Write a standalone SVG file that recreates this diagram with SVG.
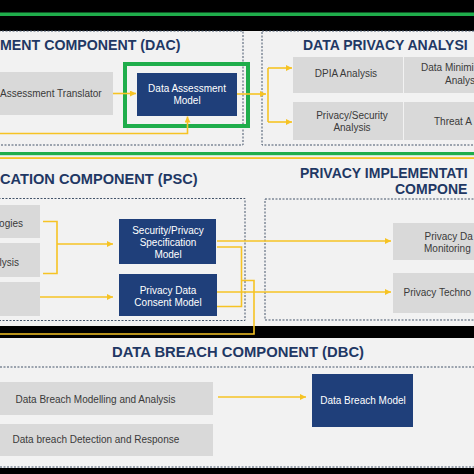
<svg xmlns="http://www.w3.org/2000/svg" width="474" height="474" viewBox="0 0 474 474">
<defs>
<style>
.bg{fill:#f2f2f2}
.blk{fill:#000}
.dash{fill:none;stroke:#44546a;stroke-width:1;stroke-dasharray:2 1.5}
.gray{fill:#d9d9d9}
.navy{fill:#1f3f7a}
.title{font-family:"Liberation Sans",Arial,sans-serif;font-weight:bold;fill:#1f3864}
.lbl{font-family:"Liberation Sans",Arial,sans-serif;font-size:10px;fill:#3a3a3a}
.wl{font-family:"Liberation Sans",Arial,sans-serif;font-size:10px;fill:#ffffff;text-anchor:middle}
.mid{text-anchor:middle}
.conn{fill:none;stroke:#f6c324;stroke-width:1.6}
</style>
<marker id="arr" markerUnits="userSpaceOnUse" markerWidth="6" markerHeight="6" refX="6" refY="3" orient="auto">
<path d="M0,0 L6,3 L0,6 z" fill="#f6c324"/>
</marker>
</defs>

<!-- background bands -->
<rect class="bg" x="0" y="0" width="474" height="474"/>
<rect class="blk" x="0" y="0" width="474" height="31"/>
<rect x="0" y="12.5" width="474" height="3.5" fill="#1fad4b"/>
<rect x="0" y="152" width="474" height="3.2" fill="#1fad4b"/>
<rect x="0" y="157.2" width="474" height="1.8" fill="#f6c324"/>
<rect class="blk" x="0" y="326" width="474" height="12"/>
<rect class="blk" x="0" y="468" width="474" height="6"/>

<!-- section frames -->
<rect class="dash" x="-5" y="31" width="248" height="114"/>
<rect class="dash" x="262" y="31" width="220" height="114"/>
<rect class="dash" x="-5" y="198.5" width="250" height="122"/>
<rect class="dash" x="265" y="199" width="217" height="121"/>
<line class="dash" x1="0" y1="367" x2="474" y2="367"/>
<line class="dash" x1="0" y1="467" x2="474" y2="467"/>

<!-- titles -->
<text class="title" x="0" y="50" font-size="14.2">MENT COMPONENT (DAC)</text>
<text class="title" x="303" y="49.5" font-size="14">DATA PRIVACY ANALYSI</text>
<text class="title" x="0" y="184" font-size="14.6">CATION COMPONENT (PSC)</text>
<text class="title" x="300" y="178" font-size="14">PRIVACY IMPLEMENTATI</text>
<text class="title" x="395" y="194" font-size="14">COMPONE</text>
<text class="title mid" x="238" y="357" font-size="14.8">DATA BREACH COMPONENT (DBC)</text>

<!-- DAC nodes -->
<g id="assessment-translator">
<rect class="gray" x="-5" y="72" width="118" height="43"/>
<text class="lbl" x="0" y="97">Assessment Translator</text>
</g>
<g id="data-assessment-model">
<rect x="125" y="64" width="123" height="62" fill="none" stroke="#1fad4b" stroke-width="4"/>
<rect class="navy" x="137" y="73" width="100" height="43"/>
<text class="wl" x="187" y="92">Data Assessment</text>
<text class="wl" x="187" y="104">Model</text>
</g>

<!-- DPA nodes -->
<g id="dpia-analysis">
<rect class="gray" x="293" y="57" width="110" height="36"/>
<text class="lbl mid" x="346" y="76.5">DPIA Analysis</text>
</g>
<g id="data-minimisation-analysis">
<rect class="gray" x="404" y="57" width="80" height="36" fill="#d8d8d8"/>
<text class="lbl" x="421" y="71">Data Minimi</text>
<text class="lbl" x="445" y="84">Analys</text>
</g>
<g id="privacy-security-analysis">
<rect class="gray" x="293" y="102" width="110" height="38"/>
<text class="lbl mid" x="352" y="119">Privacy/Security</text>
<text class="lbl mid" x="352" y="131">Analysis</text>
</g>
<g id="threat-analysis">
<rect class="gray" x="404" y="102" width="80" height="38" fill="#d8d8d8"/>
<text class="lbl" x="434" y="124.5">Threat A</text>
</g>

<!-- PSC nodes -->
<g id="psc-input-1">
<rect class="gray" x="-5" y="205" width="45" height="33"/>
<text class="lbl" x="23" y="226.5" text-anchor="end">ogies</text>
</g>
<g id="psc-input-2">
<rect class="gray" x="-5" y="243" width="45" height="34"/>
<text class="lbl" x="19" y="265.5" text-anchor="end">lysis</text>
</g>
<g id="psc-input-3">
<rect class="gray" x="-5" y="282" width="45" height="34"/>
</g>
<g id="spec-model">
<rect class="navy" x="119" y="219" width="97" height="45"/>
<text class="wl" x="168" y="233.5">Security/Privacy</text>
<text class="wl" x="168" y="246">Specification</text>
<text class="wl" x="168" y="257.5">Model</text>
</g>
<g id="consent-model">
<rect class="navy" x="119" y="274" width="98" height="42"/>
<text class="wl" x="168" y="293.5">Privacy Data</text>
<text class="wl" x="168" y="306">Consent Model</text>
</g>

<!-- PIC nodes -->
<g id="privacy-data-monitoring">
<rect class="gray" x="393" y="223" width="90" height="37"/>
<text class="lbl" x="424.5" y="239.5">Privacy Da</text>
<text class="lbl" x="424" y="252">Monitoring</text>
</g>
<g id="privacy-technology">
<rect class="gray" x="393" y="273" width="90" height="40"/>
<text class="lbl" x="403.5" y="296" font-size="9.8">Privacy Techno</text>
</g>

<!-- DBC nodes -->
<g id="breach-modelling">
<rect class="gray" x="-5" y="382" width="218" height="33"/>
<text class="lbl" x="15.5" y="403">Data Breach Modelling and Analysis</text>
</g>
<g id="breach-detection">
<rect class="gray" x="-5" y="424" width="218" height="32"/>
<text class="lbl" x="12.5" y="443">Data breach Detection and Response</text>
</g>
<g id="data-breach-model">
<rect class="navy" x="312" y="374" width="101" height="53"/>
<text class="wl" x="363" y="403.5">Data Breach Model</text>
</g>

<!-- connectors -->
<g id="connectors">
<path class="conn" d="M113,93.5 H136" marker-end="url(#arr)"/>
<path class="conn" d="M0,133.5 H187.5 V116.5" marker-end="url(#arr)"/>
<path class="conn" d="M237,94 H266" marker-end="url(#arr)"/>
<path class="conn" d="M268,68 V122"/>
<path class="conn" d="M268,68 H292" marker-end="url(#arr)"/>
<path class="conn" d="M268,122 H292" marker-end="url(#arr)"/>
<path class="conn" d="M43,221.5 H57 V273.5 H43"/>
<path class="conn" d="M57,244 H113" marker-end="url(#arr)"/>
<path class="conn" d="M40,297 H113" marker-end="url(#arr)"/>
<path class="conn" d="M217,241 H391" marker-end="url(#arr)"/>
<path class="conn" d="M217,247 H241.5 V306.5 H217"/>
<path class="conn" d="M217,292 H391" marker-end="url(#arr)"/>
<path class="conn" d="M241.5,280.5 H254 V334 H0"/>
<path class="conn" d="M218,397 H306" marker-end="url(#arr)"/>
</g>
</svg>
